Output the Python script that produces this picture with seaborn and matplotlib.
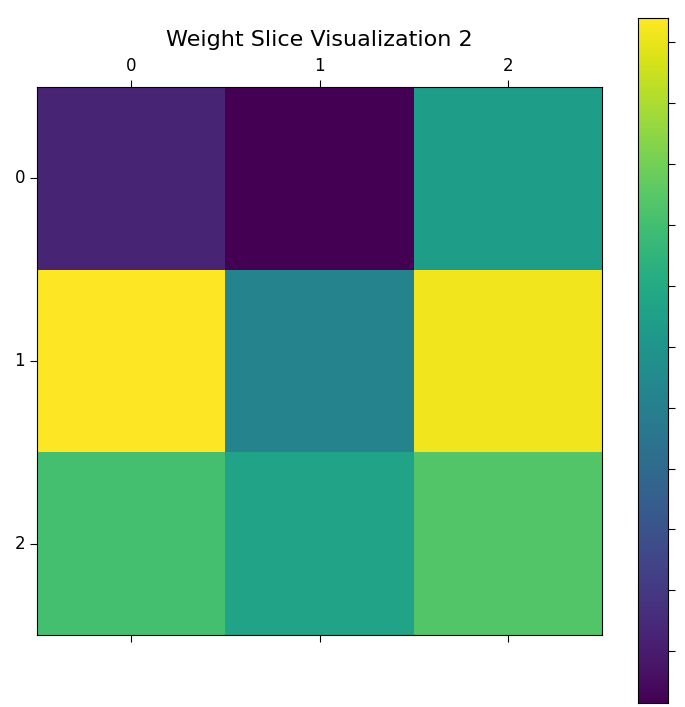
import numpy as np
import pandas as pd
import matplotlib
matplotlib.use("Agg")
import matplotlib.pyplot as plt
import seaborn as sns

rows = ["0", "1", "2"]
cols = ["0", "1", "2"]
row0 = [-0.0945, -0.117, 0.007]
row1 = [0.108, -0.016, 0.1035]
row2 = [0.0405, 0.0135, 0.047]
cbar_ticks = [-0.1, -0.08, -0.06, -0.04, -0.02, 0.0, 0.02, 0.04, 0.06, 0.08, 0.1]

data = pd.DataFrame([row0, row1, row2], index=rows, columns=cols)

fig = plt.figure(figsize=(6.85, 7.07), dpi=100)
ax = fig.add_axes([0.054, 0.102, 0.825, 0.775])
cax = fig.add_axes([0.931, 0.0057, 0.044, 0.969])

sns.heatmap(data, ax=ax, cbar_ax=cax, cmap="viridis", square=False,
            vmin=-0.117, vmax=0.108, cbar_kws={"ticks": cbar_ticks})

for s in ax.spines.values():
    s.set_visible(True)
    s.set_color("black")
for s in cax.spines.values():
    s.set_visible(True)
    s.set_color("black")

ax.tick_params(axis="x", top=True, bottom=True, labeltop=True, labelbottom=False,
               labelsize=12, length=5)
ax.tick_params(axis="y", left=True, labelsize=12, length=5, labelrotation=0)
cax.tick_params(labelright=False, length=5)
ax.set_title("Weight Slice Visualization 2", fontsize=16, pad=8)

fig.savefig("out.png", dpi=100)
